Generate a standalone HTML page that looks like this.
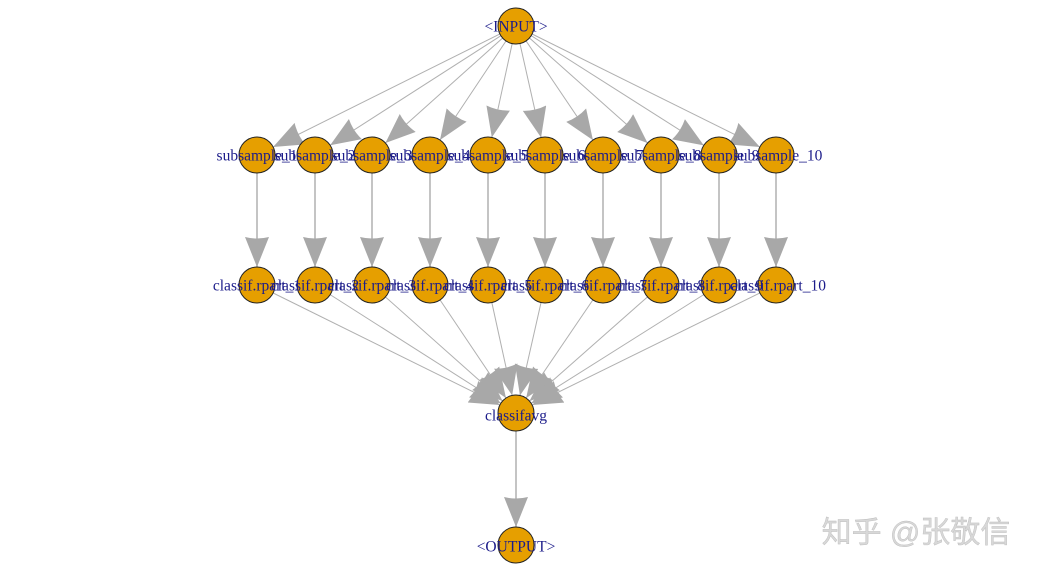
<!DOCTYPE html>
<html><head><meta charset="utf-8"><style>
html,body{margin:0;padding:0;background:#fff;}
svg{display:block;}
.n{fill:#E69F00;stroke:#222;stroke-width:1;}
.t{font-family:"Liberation Serif",serif;font-size:15.5px;fill:#1c1c8a;text-anchor:middle;dominant-baseline:central;}
.e{stroke:#b0b0b0;stroke-width:1;fill:none;}
.e2{stroke:#b0b0b0;stroke-width:1.5;fill:none;}
</style></head><body>
<svg width="1040" height="575" viewBox="0 0 1040 575" xmlns="http://www.w3.org/2000/svg">
<defs>
<marker id="a" markerUnits="userSpaceOnUse" markerWidth="60" markerHeight="30" refX="48" refY="12" orient="auto">
<path d="M0,0 L30,12 L0,24 Q3,12 0,0 z" fill="#a8a8a8"/>
</marker>
</defs>
<g class="e" marker-end="url(#a)">
<line x1="516" y1="26" x2="257" y2="155"/>
<line x1="516" y1="26" x2="315" y2="155"/>
<line x1="516" y1="26" x2="372" y2="155"/>
<line x1="516" y1="26" x2="430" y2="155"/>
<line x1="516" y1="26" x2="488" y2="155"/>
<line x1="516" y1="26" x2="545" y2="155"/>
<line x1="516" y1="26" x2="603" y2="155"/>
<line x1="516" y1="26" x2="661" y2="155"/>
<line x1="516" y1="26" x2="719" y2="155"/>
<line x1="516" y1="26" x2="776" y2="155"/>
<line x1="257" y1="285" x2="516" y2="413"/>
<line x1="315" y1="285" x2="516" y2="413"/>
<line x1="372" y1="285" x2="516" y2="413"/>
<line x1="430" y1="285" x2="516" y2="413"/>
<line x1="488" y1="285" x2="516" y2="413"/>
<line x1="545" y1="285" x2="516" y2="413"/>
<line x1="603" y1="285" x2="516" y2="413"/>
<line x1="661" y1="285" x2="516" y2="413"/>
<line x1="719" y1="285" x2="516" y2="413"/>
<line x1="776" y1="285" x2="516" y2="413"/>
</g>
<g class="e2" marker-end="url(#a)">
<line x1="257" y1="155" x2="257" y2="285"/>
<line x1="315" y1="155" x2="315" y2="285"/>
<line x1="372" y1="155" x2="372" y2="285"/>
<line x1="430" y1="155" x2="430" y2="285"/>
<line x1="488" y1="155" x2="488" y2="285"/>
<line x1="545" y1="155" x2="545" y2="285"/>
<line x1="603" y1="155" x2="603" y2="285"/>
<line x1="661" y1="155" x2="661" y2="285"/>
<line x1="719" y1="155" x2="719" y2="285"/>
<line x1="776" y1="155" x2="776" y2="285"/>
<line x1="516" y1="413" x2="516" y2="545"/>
</g>
<g class="n">
<circle cx="516" cy="26" r="18"/>
<circle cx="257" cy="155" r="18"/><circle cx="315" cy="155" r="18"/><circle cx="372" cy="155" r="18"/><circle cx="430" cy="155" r="18"/><circle cx="488" cy="155" r="18"/><circle cx="545" cy="155" r="18"/><circle cx="603" cy="155" r="18"/><circle cx="661" cy="155" r="18"/><circle cx="719" cy="155" r="18"/><circle cx="776" cy="155" r="18"/>
<circle cx="257" cy="285" r="18"/><circle cx="315" cy="285" r="18"/><circle cx="372" cy="285" r="18"/><circle cx="430" cy="285" r="18"/><circle cx="488" cy="285" r="18"/><circle cx="545" cy="285" r="18"/><circle cx="603" cy="285" r="18"/><circle cx="661" cy="285" r="18"/><circle cx="719" cy="285" r="18"/><circle cx="776" cy="285" r="18"/>
<circle cx="516" cy="413" r="18"/>
<circle cx="516" cy="545" r="18"/>
</g>
<g class="t">
<text x="516" y="27">&lt;INPUT&gt;</text>
<text x="257" y="156">subsample_1</text><text x="315" y="156">subsample_2</text><text x="372" y="156">subsample_3</text><text x="430" y="156">subsample_4</text><text x="488" y="156">subsample_5</text><text x="545" y="156">subsample_6</text><text x="603" y="156">subsample_7</text><text x="661" y="156">subsample_8</text><text x="719" y="156">subsample_9</text><text x="778" y="156">subsample_10</text>
<text x="257" y="286">classif.rpart_1</text><text x="315" y="286">classif.rpart_2</text><text x="372" y="286">classif.rpart_3</text><text x="430" y="286">classif.rpart_4</text><text x="488" y="286">classif.rpart_5</text><text x="545" y="286">classif.rpart_6</text><text x="603" y="286">classif.rpart_7</text><text x="661" y="286">classif.rpart_8</text><text x="719" y="286">classif.rpart_9</text><text x="778" y="286">classif.rpart_10</text>
<text x="516" y="416">classifavg</text>
<text x="516" y="547">&lt;OUTPUT&gt;</text>
</g>
<text x="916" y="533" text-anchor="middle" dominant-baseline="central" style="font-family:'Liberation Sans','Noto Sans CJK SC',sans-serif;font-size:30px;fill:#d8d8d8;stroke:#bcbcbc;stroke-width:0.4">知乎 @张敬信</text>
</svg>
</body></html>
